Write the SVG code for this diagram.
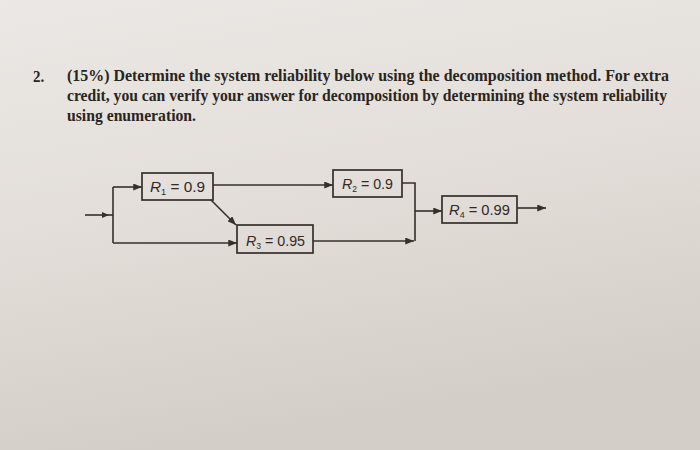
<svg xmlns="http://www.w3.org/2000/svg" width="700" height="450" viewBox="0 0 700 450">
<defs>
<linearGradient id="bg" x1="0" y1="0" x2="0.25" y2="1">
<stop offset="0" stop-color="#ebe8e5"/>
<stop offset="0.5" stop-color="#e3ded9"/>
<stop offset="1" stop-color="#d4cec8"/>
</linearGradient>
<marker id="ah" viewBox="0 0 10 8" refX="10" refY="4" markerWidth="9" markerHeight="7" markerUnits="userSpaceOnUse" orient="auto">
<path d="M0,0 L10,4 L0,8 Z" fill="#35302b"/>
</marker>
<style>
.q{font-family:"Liberation Serif","Times New Roman",serif;font-weight:bold;font-size:15px;fill:#2a2521}
.box{fill:none;stroke:#35302b;stroke-width:1.7}
.lbl{font-family:"Liberation Sans",Arial,sans-serif;font-size:15px;fill:#2f2a26}
.lbl .v{font-style:italic}
.sub{font-size:9px}
.c{fill:none;stroke:#35302b;stroke-width:1.6}
</style>
</defs>
<rect width="700" height="450" fill="url(#bg)"/>
<g id="question" transform="scale(1 1.1333)">
<text class="q" x="33" y="72.35">2.</text>
<text class="q" x="67" y="71.47" textLength="602" lengthAdjust="spacingAndGlyphs">(15%) Determine the system reliability below using the decomposition method.  For extra</text>
<text class="q" x="67" y="89.12" textLength="600" lengthAdjust="spacingAndGlyphs">credit, you can verify your answer for decomposition by determining the system reliability</text>
<text class="q" x="67" y="106.76" textLength="129" lengthAdjust="spacingAndGlyphs">using enumeration.</text>
</g>
<g id="connectors">
<path class="c" d="M85,215 H113"/>
<path d="M102,212 L109,215 L102,218 Z" fill="#35302b"/>
<path class="c" d="M113,187 V243"/>
<path class="c" d="M113,187 H142" marker-end="url(#ah)"/>
<path class="c" d="M213,185 H333" marker-end="url(#ah)"/>
<path class="c" d="M211,200 L236,225" marker-end="url(#ah)"/>
<path class="c" d="M113,243 H237" marker-end="url(#ah)"/>
<path class="c" d="M313,241 H414" marker-end="url(#ah)"/>
<path class="c" d="M402,183 H415 V241"/>
<path class="c" d="M415,211 H442" marker-end="url(#ah)"/>
<path class="c" d="M517,208 H546" marker-end="url(#ah)"/>
</g>
<g id="R1">
<rect class="box" x="142" y="173" width="71" height="27"/>
<text class="lbl" x="150" y="192" textLength="55" lengthAdjust="spacingAndGlyphs"><tspan class="v">R</tspan><tspan class="sub" dy="3">1</tspan><tspan dy="-3"> = 0.9</tspan></text>
</g>
<g id="R2">
<rect class="box" x="333" y="170" width="69" height="27"/>
<text class="lbl" x="342" y="189" textLength="51" lengthAdjust="spacingAndGlyphs"><tspan class="v">R</tspan><tspan class="sub" dy="3">2</tspan><tspan dy="-3"> = 0.9</tspan></text>
</g>
<g id="R3">
<rect class="box" x="237" y="225" width="76" height="28"/>
<text class="lbl" x="246" y="246" textLength="59" lengthAdjust="spacingAndGlyphs"><tspan class="v">R</tspan><tspan class="sub" dy="3">3</tspan><tspan dy="-3"> = 0.95</tspan></text>
</g>
<g id="R4">
<rect class="box" x="442" y="196" width="75" height="27"/>
<text class="lbl" x="449" y="215" textLength="61" lengthAdjust="spacingAndGlyphs"><tspan class="v">R</tspan><tspan class="sub" dy="3">4</tspan><tspan dy="-3"> = 0.99</tspan></text>
</g>
</svg>
